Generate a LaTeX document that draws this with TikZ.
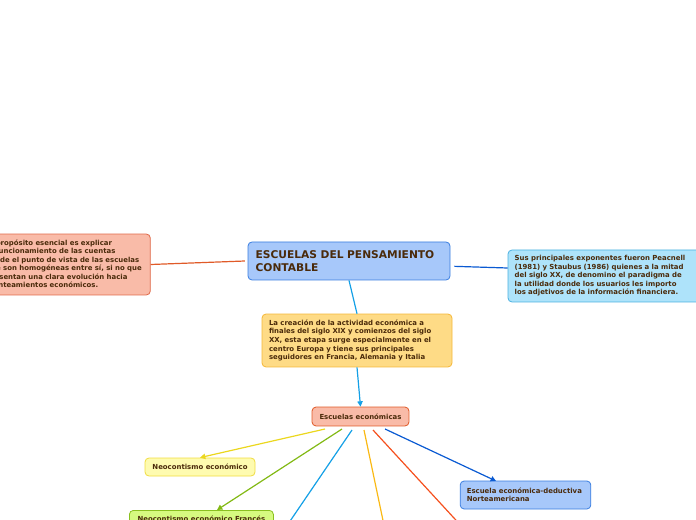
\documentclass[tikz,border=0pt]{standalone}
\usepackage{fontspec}
\setmainfont{DejaVu Sans}
\usetikzlibrary{arrows.meta}
\definecolor{txt}{HTML}{4A2A0A}
\definecolor{bluef}{HTML}{A7C8FA}\definecolor{blued}{HTML}{3A7EE0}
\definecolor{salf}{HTML}{F9BBA8}\definecolor{sald}{HTML}{E06A4A}
\definecolor{cyf}{HTML}{AEE3FA}\definecolor{cyd}{HTML}{4AB0E0}
\definecolor{yelf}{HTML}{FEDB86}\definecolor{yeld}{HTML}{F5B83A}
\definecolor{ltyf}{HTML}{FEFBB0}\definecolor{ltyd}{HTML}{F0DC40}
\definecolor{grf}{HTML}{D6FA80}\definecolor{grd}{HTML}{8AC020}
\definecolor{lred}{HTML}{E05A28}\definecolor{lblue}{HTML}{0A5AD2}
\definecolor{lcyan}{HTML}{14A0E6}\definecolor{lyel}{HTML}{EBD71E}
\definecolor{lgreen}{HTML}{82B914}\definecolor{lorange}{HTML}{FAB914}
\definecolor{lred2}{HTML}{F5501E}
\begin{document}
\begin{tikzpicture}[x=0.75pt,y=-0.75pt,
 box/.style={draw,rounded corners=3pt,line width=0.6pt,text=txt,font=\bfseries\fontsize{5.2}{6.4}\selectfont,inner sep=0pt},
 arr/.style={line width=0.9pt,-{Triangle[length=4pt,width=4pt]}},
 ln/.style={line width=0.9pt}]
\clip (0,0) rectangle (696,520);
\useasboundingbox (0,0) rectangle (696,520);
\node[box,fill=bluef,draw=blued,minimum width=151.5pt,minimum height=28.5pt,align=left,text width=140pt,font=\bfseries\fontsize{8}{9.5}\selectfont] (main) at (349,261) {ESCUELAS DEL PENSAMIENTO\\CONTABLE};
\node[box,fill=salf,draw=sald,minimum width=128pt,minimum height=45.7pt,align=left,text width=118pt] (left) at (65,264.5) {El propósito esencial es explicar\\el funcionamiento de las cuentas\\desde el punto de vista de las escuelas\\que son homogéneas entre sí, si no que\\presentan una clara evolución hacia\\planteamientos económicos.};
\node[box,fill=cyf,draw=cyd,minimum width=144pt,minimum height=39pt,align=left,text width=134pt] (right) at (604,276) {Sus principales exponentes fueron Peacnell\\(1981) y Staubus (1986) quienes a la mitad\\del siglo XX, de denomino el paradigma de\\la utilidad donde los usuarios les importo\\los adjetivos de la información financiera.};
\node[box,fill=yelf,draw=yeld,minimum width=142.5pt,minimum height=39.7pt,align=left,text width=132pt] (yel) at (357,340.5) {La creación de la actividad económica a\\finales del siglo XIX y comienzos del siglo\\XX, esta etapa surge especialmente en el\\centro Europa y tiene sus principales\\seguidores en Francia, Alemania y Italia};
\node[box,fill=salf,draw=lred,minimum width=72.7pt,minimum height=14.2pt] (esc) at (360.5,416.5) {Escuelas económicas};
\node[box,fill=ltyf,draw=ltyd,minimum width=82.5pt,minimum height=13.5pt] (neo) at (200,467) {Neocontismo económico};
\node[box,fill=grf,draw=grd,minimum width=108pt,minimum height=22pt,anchor=north west] (fr) at (129,510) {\raisebox{9pt}{Neocontismo económico Francés}};
\node[box,fill=bluef,draw=blued,minimum width=98pt,minimum height=21pt,align=left,text width=88pt] (nor) at (525.5,495) {Escuela económica-deductiva\\Norteamericana};
\coordinate (c1) at (284,530);
\coordinate (c2) at (385,530);
\coordinate (c3) at (465,530);
\draw[ln,lred] ([xshift=-2pt]main.west) -- (left.east);
\draw[ln,lblue] ([xshift=3pt,yshift=-4pt]main.east) -- ([yshift=6pt]right.west);
\draw[ln,lcyan] (main.south) -- (yel.north);
\draw[arr,lcyan] (yel.south) -- (esc.north);
\draw[arr,lyel] (325,429) -- (neo.north);
\draw[arr,lgreen] (342,429) -- (217,510);
\draw[ln,lcyan] (352,430) -- (c1);
\draw[ln,lorange] (364,430) -- (c2);
\draw[ln,lred2] (373,430) -- (c3);
\draw[arr,lblue] (385,429) -- (496,481);
\end{tikzpicture}
\end{document}
